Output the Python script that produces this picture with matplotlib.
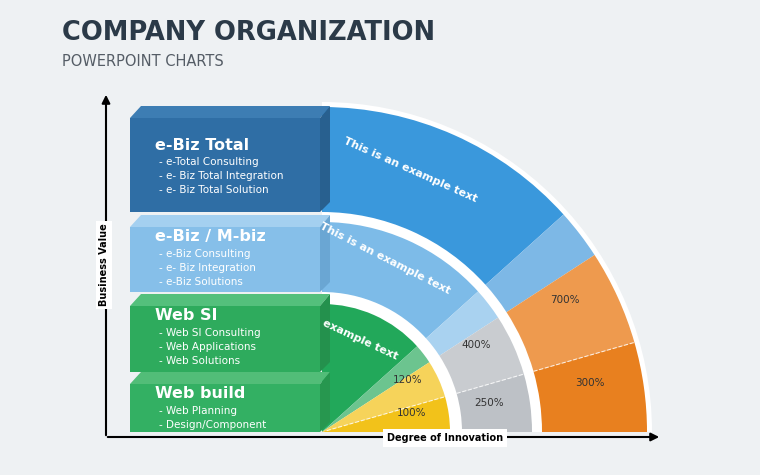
import matplotlib
matplotlib.use("Agg")
import matplotlib.pyplot as plt
from matplotlib.patches import Wedge, Polygon, Rectangle
import numpy as np

# data
box_titles = ["e-Biz Total", "e-Biz / M-biz", "Web SI", "Web build"]
box_items = [["- e-Total Consulting", "- e- Biz Total Integration", "- e- Biz Total Solution"],
             ["- e-Biz Consulting", "- e- Biz Integration", "- e-Biz Solutions"],
             ["- Web SI Consulting", "- Web Applications", "- Web Solutions"],
             ["- Web Planning", "- Design/Component"]]
ring_upper_labels = ["120%", "400%", "700%"]
ring_lower_labels = ["100%", "250%", "300%"]
arc_texts = ["example text", "This is an example text", "This is an example text"]

BG = "#eef1f3"
fig = plt.figure(figsize=(7.6, 4.75), dpi=100, facecolor=BG)
ax = fig.add_axes([0, 0, 1, 1])
ax.set_xlim(0, 760); ax.set_ylim(475, 0); ax.axis("off")
ax.set_facecolor(BG)

ax.text(62, 33, "COMPANY ORGANIZATION", fontsize=18.5, fontweight="bold", color="#2b3a48", va="center")
ax.text(62, 62, "POWERPOINT CHARTS", fontsize=10.5, color="#555d66", va="center")

# rings
C = (322, 432)
rings = [(0, 128), (140, 210), (220, 325)]
top_cols = ["#22a85a", "#7dbbe8", "#3a98dc"]
band_cols = ["#6cc48f", "#a9d2f0", "#7db8e6"]
mid_cols = ["#f6d35a", "#c9ccd0", "#ee9a4e"]
low_cols = ["#f2c21a", "#bdc1c6", "#e8801f"]
def wedge(r0, r1, a1, a2, col):
    ax.add_patch(Wedge(C, r1, -a2, -a1, width=r1 - r0, facecolor=col, edgecolor="none"))
wedge(0, 330, 0, 90, "white")
for i, (r0, r1) in enumerate(rings):
    wedge(r0, r1, 42, 90, top_cols[i])
    wedge(r0, r1, 33, 42, band_cols[i])
    wedge(r0, r1, 16, 33, mid_cols[i])
    wedge(r0, r1, 0, 16, low_cols[i])

def pt(r, a):
    t = np.radians(a)
    return C[0] + r * np.cos(t), C[1] - r * np.sin(t)
for i, (r0, r1) in enumerate(rings):
    p0, p1 = pt(max(r0, 5), 16), pt(r1, 16)
    ax.plot([p0[0], p1[0]], [p0[1], p1[1]], ls="--", color="white", lw=0.8, alpha=0.8)

up_pos = [(100, 31), (177, 29.5), (276, 28.5)]
low_pos = [(92, 12), (170, 9.8), (272, 10.4)]
for i in range(3):
    x, y = pt(*up_pos[i])
    ax.text(x, y, ring_upper_labels[i], fontsize=7.5, color="#333", ha="center", va="center")
    x, y = pt(*low_pos[i])
    ax.text(x, y, ring_lower_labels[i], fontsize=7.5, color="#333", ha="center", va="center")

arc_pos = [(360, 340, -25), (385, 258, -27), (410, 170, -24)]
for t, (x, y, rot) in zip(arc_texts, arc_pos):
    ax.text(x, y, t, fontsize=8, fontweight="bold", color="white", rotation=rot,
            ha="center", va="center", rotation_mode="anchor")

# boxes
rows = [(118, 212), (227, 292), (306, 372), (384, 432)]
front = ["#2f6ea5", "#86bfe9", "#2eab5d", "#33b063"]
topc = ["#3d7db3", "#a4d0f0", "#54c07c", "#52bd78"]
side = ["#28608f", "#6aa6d3", "#24914d", "#27974f"]
for i, (y0, y1) in enumerate(rows):
    ax.add_patch(Polygon([(130, y0), (141, y0 - 12), (330, y0 - 12), (320, y0)], closed=True,
                         facecolor=topc[i], edgecolor="none"))
    ax.add_patch(Polygon([(320, y0), (330, y0 - 12), (330, y1 - 10), (320, y1)], closed=True,
                         facecolor=side[i], edgecolor="none"))
    ax.add_patch(Rectangle((130, y0), 190, y1 - y0, facecolor=front[i], edgecolor="none"))
    ax.text(155, y0 + 27 if i == 0 else y0 + 10, box_titles[i], fontsize=11.5, fontweight="bold",
            color="white", va="center")
    base = y0 + 44 if i == 0 else y0 + 27
    for j, it in enumerate(box_items[i]):
        ax.text(159, base + j * 14, it, fontsize=7.5, color="white", va="center")

# axes arrows
ax.annotate("", xy=(106, 92), xytext=(106, 438),
            arrowprops=dict(arrowstyle="-|>", color="black", lw=1.5, mutation_scale=12))
ax.annotate("", xy=(662, 437), xytext=(105, 437),
            arrowprops=dict(arrowstyle="-|>", color="black", lw=1.5, mutation_scale=12))
ax.text(104, 265, "Business Value", rotation=90, fontsize=7, fontweight="bold", ha="center", va="center",
        bbox=dict(facecolor="white", edgecolor="none", pad=2))
ax.text(445, 438, "Degree of Innovation", fontsize=7, fontweight="bold", ha="center", va="center",
        bbox=dict(facecolor="white", edgecolor="none", pad=3))

fig.savefig("out.png", dpi=100, facecolor=BG)
